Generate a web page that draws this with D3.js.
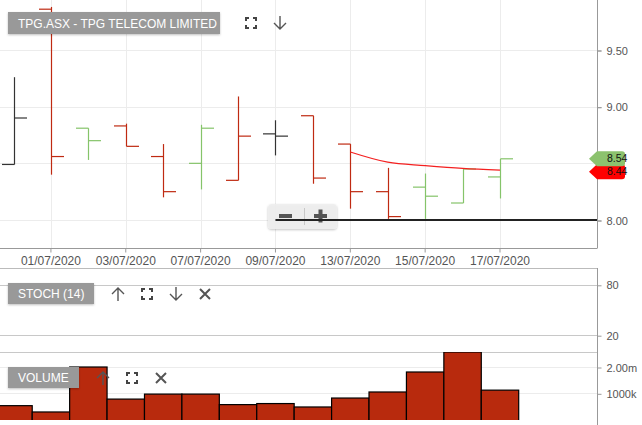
<!DOCTYPE html>
<html><head><meta charset="utf-8">
<script src="https://cdn.jsdelivr.net/npm/d3@7"></script>
<style>
html,body{margin:0;padding:0;background:#fff;}
svg{display:block;font-family:"Liberation Sans",Arial,sans-serif;}
</style></head>
<body><svg id="c" width="642" height="425"></svg>
<script>
// ---- data ----
const dates = ["30/06/2020","01/07/2020","02/07/2020","03/07/2020","06/07/2020","07/07/2020","08/07/2020","09/07/2020","10/07/2020","13/07/2020","14/07/2020","15/07/2020","16/07/2020","17/07/2020"];
const openV  = [8.49, 9.86, 8.81, 8.83, 8.56, 8.50, 8.35, 8.76, 8.92, 8.67, 8.25, 8.29, 8.15, 8.38];
const highV  = [9.26, 9.88, 8.81, 8.85, 8.67, 8.84, 9.09, 8.88, 8.92, 8.67, 8.46, 8.41, 8.45, 8.54];
const lowV   = [8.49, 8.40, 8.53, 8.65, 8.20, 8.27, 8.35, 8.57, 8.32, 8.10, 8.01, 8.01, 8.15, 8.19];
const closeV = [8.90, 8.56, 8.70, 8.65, 8.25, 8.81, 8.74, 8.74, 8.37, 8.25, 8.03, 8.21, 8.45, 8.54];
const priorClose = 8.90;
const volumeV = [0.53e6, 0.29e6, 2.0e6, 0.78e6, 0.97e6, 0.97e6, 0.57e6, 0.61e6, 0.48e6, 0.82e6, 1.05e6, 1.81e6, 2.57e6, 1.12e6];
const maDates = ["13/07/2020","14/07/2020","15/07/2020","16/07/2020","17/07/2020"];
const maV = [8.60, 8.51, 8.48, 8.455, 8.44];
const supportLevel = 8.00;
const supportFrom = "09/07/2020";
const xTickLabels = ["01/07/2020","03/07/2020","07/07/2020","09/07/2020","13/07/2020","15/07/2020","17/07/2020"];
const priceTicks = [8.0, 8.5, 9.0, 9.5];
const priceTicksLabelled = [8.0, 9.0, 9.5]; // 8.50 sits under the price tags
const stochTicks = [20, 80];
const volTicks = [1e6, 2e6];
const volTickLabels = ["1000k", "2.00m"];

// ---- layout ----
const svg = d3.select("#c");
const XR = 597;
const mainTop = 0, mainBot = 248;
const stTop = 268, stBot = 352;
const vTop = 352;

const x = d3.scaleBand().domain(dates).range([-5.2, 518.7]).padding(0);
const xc = d => x(d) + x.bandwidth() / 2;
const y = d3.scaleLinear().domain([8, 9.5]).range([220, 50]);
const ys = d3.scaleLinear().domain([0, 100]).range([stBot, stTop]);
const yv = d3.scaleLinear().domain([0, 2e6]).range([419.6, 367]);

const RED = "#bf2a12", GREEN = "#85c46a", GRAY = "#333", GRID = "#ececec", AXC = "#999", TXT = "#555";

const defs = svg.append("defs");
defs.append("clipPath").attr("id","cm").append("rect").attr("x",0).attr("y",mainTop).attr("width",XR).attr("height",mainBot-mainTop);
defs.append("clipPath").attr("id","cv").append("rect").attr("x",0).attr("y",vTop).attr("width",XR).attr("height",425-vTop);
const flt = defs.append("filter").attr("id","sh").attr("x","-10%").attr("y","-20%").attr("width","120%").attr("height","160%");
flt.append("feDropShadow").attr("dx",0).attr("dy",1).attr("stdDeviation",1).attr("flood-color","#000").attr("flood-opacity",0.25);

// ---- main grid ----
const g = svg.append("g");
g.selectAll(".hg").data(priceTicks).join("line")
  .attr("x1",0).attr("x2",XR).attr("y1",d=>Math.round(y(d))+0.5).attr("y2",d=>Math.round(y(d))+0.5)
  .attr("stroke",GRID);
g.selectAll(".vg").data(xTickLabels).join("line")
  .attr("x1",d=>Math.round(xc(d))+0.5).attr("x2",d=>Math.round(xc(d))+0.5).attr("y1",mainTop).attr("y2",mainBot)
  .attr("stroke",GRID);

// x axis
const xAx = svg.append("g").attr("transform",`translate(0,${mainBot+0.5})`)
  .call(d3.axisBottom(x).tickValues(xTickLabels).tickSize(4).tickPadding(4).tickSizeOuter(0));
xAx.select(".domain").remove();
xAx.append("line").attr("x1",0).attr("x2",XR).attr("stroke",AXC);
xAx.selectAll(".tick line").attr("stroke",AXC);
xAx.selectAll(".tick text").attr("fill",TXT).style("font-size","12px").style("font-family","Liberation Sans, Arial, sans-serif");

// right axis main
svg.append("line").attr("x1",XR+0.5).attr("x2",XR+0.5).attr("y1",0).attr("y2",mainBot+0.5).attr("stroke",AXC);
const yAxT = svg.append("g").attr("transform",`translate(${XR+0.5},0.5)`)
  .call(d3.axisRight(y).tickValues(priceTicks).tickFormat("").tickSize(4));
yAxT.select(".domain").remove();
yAxT.selectAll(".tick line").attr("stroke",AXC);
const yAx = svg.append("g").attr("transform",`translate(${XR+0.5},0.5)`)
  .call(d3.axisRight(y).tickValues(priceTicksLabelled).tickFormat(d3.format(".2f")).tickSize(4).tickPadding(5));
yAx.select(".domain").remove();
yAx.selectAll(".tick line").attr("stroke",AXC);
yAx.selectAll(".tick text").attr("fill",TXT).style("font-size","11px").style("font-family","Liberation Sans, Arial, sans-serif");

// ---- OHLC bars ----
const bars = dates.map((d,i)=>({d, o:openV[i], h:highV[i], l:lowV[i], c:closeV[i], pc: i===0?priorClose:closeV[i-1]}));
const colr = b => b.c > b.pc ? GREEN : (b.c < b.pc ? RED : GRAY);
const pg = svg.append("g").attr("clip-path","url(#cm)");
const bg = pg.selectAll("g.bar").data(bars).join("g").attr("stroke",colr).attr("stroke-width",1.2);
bg.append("line").attr("x1",b=>Math.round(xc(b.d))+0.5).attr("x2",b=>Math.round(xc(b.d))+0.5)
  .attr("y1",b=>y(b.h)).attr("y2",b=>y(b.l));
bg.append("line").attr("x1",b=>Math.round(xc(b.d))-12).attr("x2",b=>Math.round(xc(b.d))+0.5)
  .attr("y1",b=>y(b.o)).attr("y2",b=>y(b.o));
bg.append("line").attr("x1",b=>Math.round(xc(b.d))+0.5).attr("x2",b=>Math.round(xc(b.d))+13)
  .attr("y1",b=>y(b.c)).attr("y2",b=>y(b.c));

// MA line
const maPts = maDates.map((d,i)=>[xc(d), y(maV[i])]);
pg.append("path").attr("d", d3.line().curve(d3.curveMonotoneX)(maPts))
  .attr("fill","none").attr("stroke","#f42020").attr("stroke-width",1.3);

// zoom control
const zc = svg.append("g");
zc.append("rect").attr("x",268).attr("y",204).attr("width",69).attr("height",25).attr("rx",4)
  .attr("fill","#eeeeee").attr("fill-opacity",0.9).attr("filter","url(#sh)");
zc.append("line").attr("x1",304.5).attr("x2",304.5).attr("y1",208).attr("y2",225).attr("stroke","#c8c8c8");
zc.append("rect").attr("x",279).attr("y",214).attr("width",13).attr("height",4).attr("fill","#555");
zc.append("rect").attr("x",314).attr("y",214).attr("width",13).attr("height",4).attr("fill","#555");
zc.append("rect").attr("x",318.5).attr("y",209.5).attr("width",4).attr("height",13).attr("fill","#555");

// support line
svg.append("line").attr("x1",xc(supportFrom)).attr("x2",XR).attr("y1",y(supportLevel)).attr("y2",y(supportLevel))
  .attr("stroke","#222").attr("stroke-width",1.8);

// price tags
function tag(val, fill, yy){
  const t = svg.append("g").attr("transform",`translate(0,${yy})`);
  t.append("path").attr("d","M589,0 L597,-7.5 L622,-7.5 Q625,-7.5 625,-4.5 L625,4.5 Q625,7.5 622,7.5 L597,7.5 Z").attr("fill",fill);
  t.append("text").attr("x",607).attr("y",3.5).attr("fill","#111").style("font-size","10.5px").text(d3.format(".2f")(val));
}
tag(maV[maV.length-1], "#ff0000", y(maV[maV.length-1])+1.6);
tag(closeV[closeV.length-1], "#8cc26e", y(closeV[closeV.length-1]));

// ---- label boxes & icons ----
function labelBox(x0,y0,w,h,text){
  svg.append("rect").attr("x",x0).attr("y",y0).attr("width",w).attr("height",h).attr("fill","#999").attr("filter","url(#sh)");
  svg.append("text").attr("x",x0+10).attr("y",y0+h/2+4.5).attr("fill","#fff").style("font-size","12px").text(text);
}
function icoFull(cx,cy){
  const s=5, k=3;
  const p = `M${cx-s},${cy-s+k}V${cy-s}H${cx-s+k} M${cx+s-k},${cy-s}H${cx+s}V${cy-s+k} M${cx+s},${cy+s-k}V${cy+s}H${cx+s-k} M${cx-s+k},${cy+s}H${cx-s}V${cy+s-k}`;
  svg.append("path").attr("d",p).attr("fill","none").attr("stroke","#444").attr("stroke-width",2);
}
function icoUp(cx,cy){
  svg.append("path").attr("d",`M${cx},${cy+7}V${cy-6} M${cx-6},${cy} L${cx},${cy-6} L${cx+6},${cy}`).attr("fill","none").attr("stroke","#555").attr("stroke-width",1.4);
}
function icoDown(cx,cy){
  svg.append("path").attr("d",`M${cx},${cy-7}V${cy+6} M${cx-6},${cy} L${cx},${cy+6} L${cx+6},${cy}`).attr("fill","none").attr("stroke","#555").attr("stroke-width",1.4);
}
function icoX(cx,cy){
  svg.append("path").attr("d",`M${cx-5},${cy-5}L${cx+5},${cy+5}M${cx+5},${cy-5}L${cx-5},${cy+5}`).attr("fill","none").attr("stroke","#555").attr("stroke-width",2);
}

labelBox(8,12,212,22,"TPG.ASX - TPG TELECOM LIMITED");
icoFull(251,23); icoDown(280,23);

// ---- stoch panel ----
svg.append("line").attr("x1",0).attr("x2",XR).attr("y1",stTop+0.5).attr("y2",stTop+0.5).attr("stroke","#bbb");
svg.selectAll(".sg").data(stochTicks).join("line")
  .attr("x1",0).attr("x2",XR).attr("y1",d=>Math.round(ys(d))+0.5).attr("y2",d=>Math.round(ys(d))+0.5).attr("stroke","#c8c8c8");
svg.append("line").attr("x1",0).attr("x2",XR).attr("y1",stBot+0.5).attr("y2",stBot+0.5).attr("stroke","#c8c8c8");
const sAx = svg.append("g").attr("transform",`translate(${XR+0.5},0.5)`)
  .call(d3.axisRight(ys).tickValues(stochTicks).tickSize(4).tickPadding(5));
sAx.select(".domain").remove();
sAx.selectAll(".tick line").attr("stroke",AXC);
sAx.selectAll(".tick text").attr("fill",TXT).style("font-size","11px").style("font-family","Liberation Sans, Arial, sans-serif");
labelBox(8,283,86,21,"STOCH (14)");
icoUp(118,294); icoFull(147,294); icoDown(176,294); icoX(205,294);

// ---- volume panel ----
svg.selectAll(".vgl").data(volTicks).join("line")
  .attr("x1",0).attr("x2",XR).attr("y1",d=>Math.round(yv(d))+0.5).attr("y2",d=>Math.round(yv(d))+0.5).attr("stroke",GRID);
svg.append("g").attr("clip-path","url(#cv)").selectAll("rect").data(dates.map((d,i)=>({d,v:volumeV[i]}))).join("rect")
  .attr("x",b=>x(b.d)).attr("width",x.bandwidth()).attr("y",b=>yv(b.v)).attr("height",b=>yv(0)-yv(b.v)+4)
  .attr("fill","#b82a0d").attr("stroke","#000").attr("stroke-width",1.2);
svg.append("rect").attr("x",0).attr("y",420).attr("width",642).attr("height",5).attr("fill","#fff");
svg.append("line").attr("x1",XR+0.5).attr("x2",XR+0.5).attr("y1",stTop).attr("y2",425).attr("stroke",AXC);
const vAx = svg.append("g").attr("transform",`translate(${XR+0.5},0.5)`)
  .call(d3.axisRight(yv).tickValues(volTicks).tickFormat((d,i)=>volTickLabels[i]).tickSize(4).tickPadding(5));
vAx.select(".domain").remove();
vAx.selectAll(".tick line").attr("stroke",AXC);
vAx.selectAll(".tick text").attr("fill",TXT).style("font-size","11px").style("font-family","Liberation Sans, Arial, sans-serif");
labelBox(8,367,71,21,"VOLUME");
icoUp(103,378); icoFull(132,378); icoX(161,378);
</script></body></html>
